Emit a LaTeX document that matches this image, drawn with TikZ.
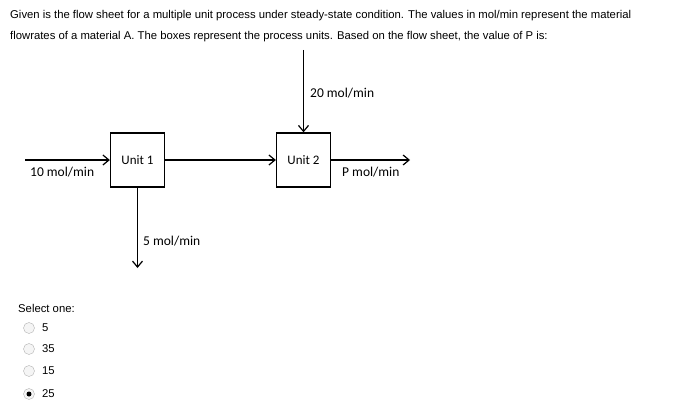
\documentclass[tikz,border=0pt]{standalone}
\usepackage{fontspec}
\usetikzlibrary{arrows.meta}
\setmainfont{Liberation Sans}
\newfontfamily\calib{Carlito}
\begin{document}
\begin{tikzpicture}[x=1pt,y=-1pt,
  unitbox/.style={draw,line width=1.3pt,minimum width=54pt,minimum height=54pt,inner sep=0pt,font=\calib\fontsize{13}{15}\selectfont},
  flow/.style={line width=1.2pt,-{Straight Barb[length=6pt,width=10pt]}},
  lab/.style={font=\calib\fontsize{13.5}{15}\selectfont,inner sep=0pt},
  qtext/.style={font=\fontsize{11.3}{13}\selectfont,inner sep=0pt,anchor=west},
  radio/.style={circle,draw=gray!60,fill=gray!8,minimum size=11pt,inner sep=0pt}]
\useasboundingbox (0,0) rectangle (700,412);
\node[qtext] (q1) at (10,16) {Given is the flow sheet for a multiple unit process under steady-state condition. The values in mol/min represent the material};
\node[qtext] (q2) at (10,37) {flowrates of a material A. The boxes represent the process units. Based on the flow sheet, the value of P is:};
\node[unitbox] (u1) at (137.5,160) {Unit 1};
\node[unitbox] (u2) at (303.5,160) {Unit 2};
\coordinate (in) at (25,160);
\coordinate (top) at (303.5,50);
\coordinate (out) at (410,160);
\coordinate (bot) at (137.5,268);
\draw[flow] (in) -- (u1.west);
\draw[flow] (u1.east) -- (u2.west);
\draw[flow] (top) -- (u2.north);
\draw[flow] (u2.east) -- (out);
\draw[flow] (u1.south) -- (bot);
\node[lab,anchor=west] (l10) at (30,172) {10 mol/min};
\node[lab,anchor=west] (l20) at (310,93) {20 mol/min};
\node[lab,anchor=west] (lp) at (342,172) {P mol/min};
\node[lab,anchor=west] (l5) at (143,241) {5 mol/min};
\node[qtext] (sel) at (18,308) {Select one:};
\node[radio] (r1) at (29,328) {};
\node[radio] (r2) at (29,349) {};
\node[radio] (r3) at (29,371) {};
\node[radio] (r4) at (29,394) {};
\fill (r4.center) circle (2.5pt);
\node[qtext] at (42,328) {5};
\node[qtext] at (42,349) {35};
\node[qtext] at (42,371) {15};
\node[qtext] at (42,394) {25};
\end{tikzpicture}
\end{document}
